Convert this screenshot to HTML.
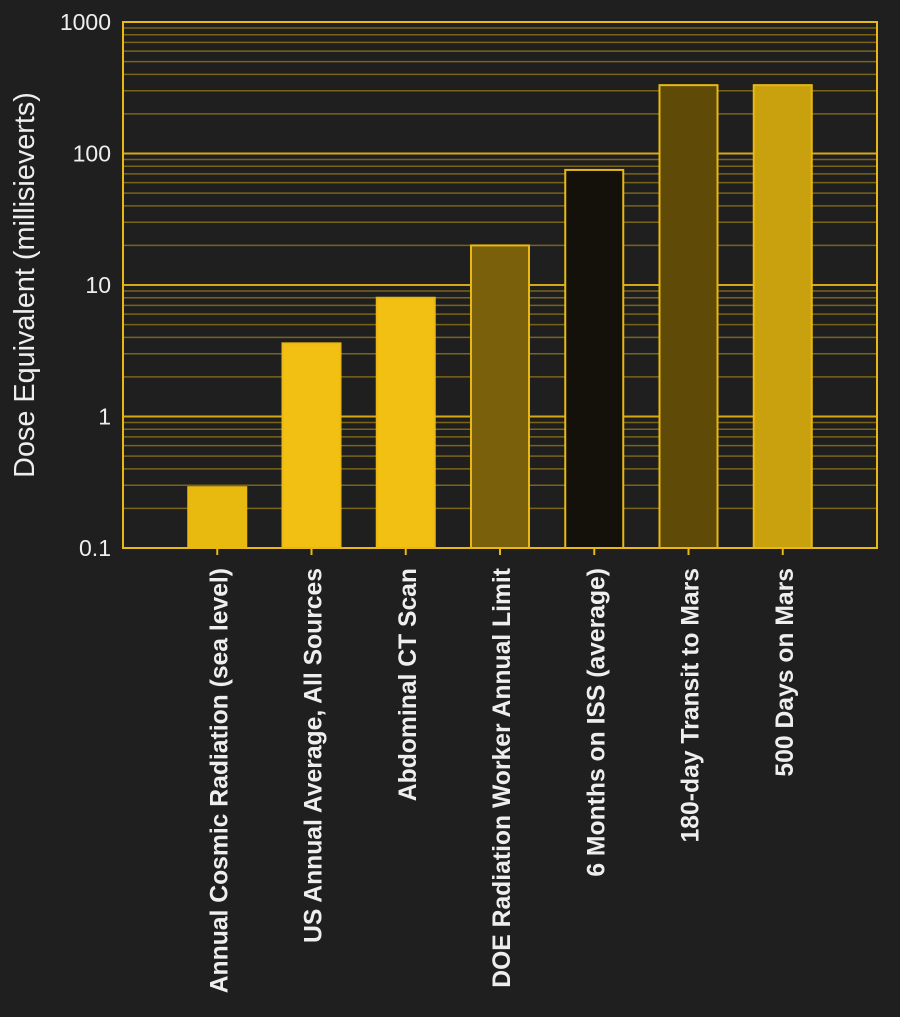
<!DOCTYPE html>
<html><head><meta charset="utf-8"><style>
html,body{margin:0;padding:0;background:#1f1f1f;}
svg{display:block;}
</style></head><body>
<svg id="chart" width="900" height="1017" xmlns="http://www.w3.org/2000/svg" style="background:#1f1f1f">
<rect x="0" y="0" width="900" height="1017" fill="#1f1f1f"/>
<g id="grid"></g>
<g id="bars"></g>
<g id="axes"></g>
<g id="labels"></g>
<text transform="translate(34,285) rotate(-90)" text-anchor="middle" font-family="Liberation Sans, sans-serif" font-size="28.8" fill="#eeeeee">Dose Equivalent (millisieverts)</text>
</svg>
<script>
const categories = ["Annual Cosmic Radiation (sea level)","US Annual Average, All Sources","Abdominal CT Scan","DOE Radiation Worker Annual Limit","6 Months on ISS (average)","180-day Transit to Mars","500 Days on Mars"];
const values = [0.29, 3.6, 8, 20, 75, 331, 331];
const barColors = ["#e8b90e","#f2c013","#f2c013","#7a600b","#13110a","#5f4a08","#c9a00d"];
const tickValues = [0.1, 1, 10, 100, 1000];
const tickLabels = ["0.1","1","10","100","1000"];

const NS = "http://www.w3.org/2000/svg";
const L = 123, R = 877, T = 22, B = 548;
const yMin = -1, yMax = 3;
function y(v){ return B - (Math.log10(v) - yMin) / (yMax - yMin) * (B - T); }
const slot = (R - L) / (categories.length + 1);
function x(i){ return L + slot * (i + 1); }
function mk(tag, attrs, parent){ const e = document.createElementNS(NS, tag); for (const k in attrs) e.setAttribute(k, attrs[k]); parent.appendChild(e); return e; }

const grid = document.getElementById('grid');
for (let d = yMin; d < yMax; d++) {
  for (let m = 2; m <= 9; m++) {
    const yy = y(m * Math.pow(10, d));
    const ln = mk('line', {x1: L, x2: R, y1: yy, y2: yy, stroke: '#7a6418', 'stroke-width': 1.5}, grid);
    
    
  }
}
tickValues.forEach(v => {
  const yy = y(v);
  const ln = mk('line', {x1: L, x2: R, y1: yy, y2: yy, stroke: '#d4a817', 'stroke-width': 2}, grid);
  
  
});

const bars = document.getElementById('bars');
const bw = 58;
values.forEach((v, i) => {
  const top = y(v);
  const r = mk('rect', {x: x(i) - bw/2, y: top, width: bw, height: B - top, fill: barColors[i], stroke: '#e9b815', 'stroke-width': 2}, bars);
  
  
});

const axes = document.getElementById('axes');
const frame = mk('rect', {x: L, y: T, width: R - L, height: B - T, fill: 'none', stroke: '#e9b815', 'stroke-width': 2}, axes);


categories.forEach((c, i) => {
  const t = mk('line', {x1: x(i), x2: x(i), y1: B, y2: B + 7, stroke: '#e9b815', 'stroke-width': 2}, axes);
  
  
});

const labels = document.getElementById('labels');
tickValues.forEach((v, i) => {
  const t = mk('text', {x: 111, y: y(v) + 8, 'text-anchor': 'end', 'font-family': 'Liberation Sans, sans-serif', 'font-size': 23, fill: '#eeeeee'}, labels);
  t.textContent = tickLabels[i];
  
  
});
categories.forEach((c, i) => {
  const xx = x(i) + 10, yy = 568;
  const t = mk('text', {transform: 'translate(' + xx + ',' + yy + ') rotate(-90)', 'text-anchor': 'end', 'font-family': 'Liberation Sans, sans-serif', 'font-size': 24.7, 'font-weight': 'bold', fill: '#eeeeee'}, labels);
  t.textContent = c;
  
  
});
</script>
</body></html>
